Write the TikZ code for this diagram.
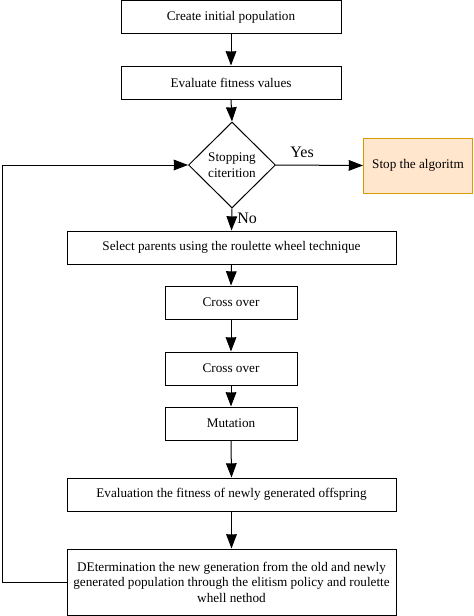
\documentclass[tikz,border=0pt]{standalone}
\usepackage{fontspec}
\setmainfont{Liberation Serif}
\usetikzlibrary{shapes.geometric,arrows.meta}
\definecolor{stopfill}{HTML}{FFE6CC}
\definecolor{stopdraw}{HTML}{D79B00}
\tikzset{
  box/.style={draw=black,line width=1pt,fill=white,inner sep=2pt,font=\fontsize{13.2}{15.5}\selectfont,align=center},
  dec/.style={draw=black,line width=1pt,fill=white,shape=diamond,inner sep=0pt,minimum width=87pt,minimum height=86pt,font=\fontsize{13.2}{15.5}\selectfont,align=center},
  stopbox/.style={box,fill=stopfill,draw=stopdraw},
  arr/.style={draw=black,line width=1pt,-{Stealth[scale=1.9,inset'=0.15]}},
  lbl/.style={font=\fontsize{16}{18}\selectfont,inner sep=0pt}
}
\begin{document}
\begin{tikzpicture}[x=1pt,y=1pt]
\useasboundingbox (0,0) rectangle (474,-616);
\node[box,minimum width=220pt,minimum height=33pt] (b1) at (231,-17) {Create initial population};
\node[box,minimum width=220pt,minimum height=33pt] (b2) at (231,-82.5) {Evaluate fitness values};
\node[dec] (d) at (232,-165) {Stopping\\citerition};
\node[stopbox,minimum width=109pt,minimum height=55pt] (stop) at (418,-165.5) {Stop the algoritm};
\node[box,minimum width=329pt,minimum height=33pt] (sel) at (231.5,-247.5) {Select parents using the roulette wheel technique};
\node[box,minimum width=132pt,minimum height=33pt] (c1) at (231,-302.5) {Cross over};
\node[box,minimum width=132pt,minimum height=33pt] (c2) at (231,-368.5) {Cross over};
\node[box,minimum width=132pt,minimum height=33pt] (mut) at (231,-423.5) {Mutation};
\node[box,minimum width=329pt,minimum height=33pt] (ev) at (231.5,-494.5) {Evaluation the fitness of newly generated offspring};
\node[box,minimum width=329pt,minimum height=66pt] (det) at (231.5,-582) {DEtermination the new generation from the old and newly\\generated population through the elitism policy and roulette\\whell nethod};
\coordinate (fb1) at (2,-582);
\coordinate (fb2) at (2,-165);
\draw[arr] (b1.south) -- (b2.north);
\draw[arr] (b2.south) -- (d.north);
\draw[arr] (d.east) -- node[lbl,above=7pt,pos=0.3] {Yes} (stop.west);
\draw[arr] (d.south) -- node[lbl,right=5pt,pos=0.45] {No} (sel.north);
\draw[arr] (sel.south) -- (c1.north);
\draw[arr] (c1.south) -- (c2.north);
\draw[arr] (c2.south) -- (mut.north);
\draw[arr] (mut.south) -- (ev.north);
\draw[arr] (ev.south) -- (det.north);
\draw[arr] (det.west) -- (fb1) -- (fb2) -- (d.west);
\end{tikzpicture}
\end{document}
